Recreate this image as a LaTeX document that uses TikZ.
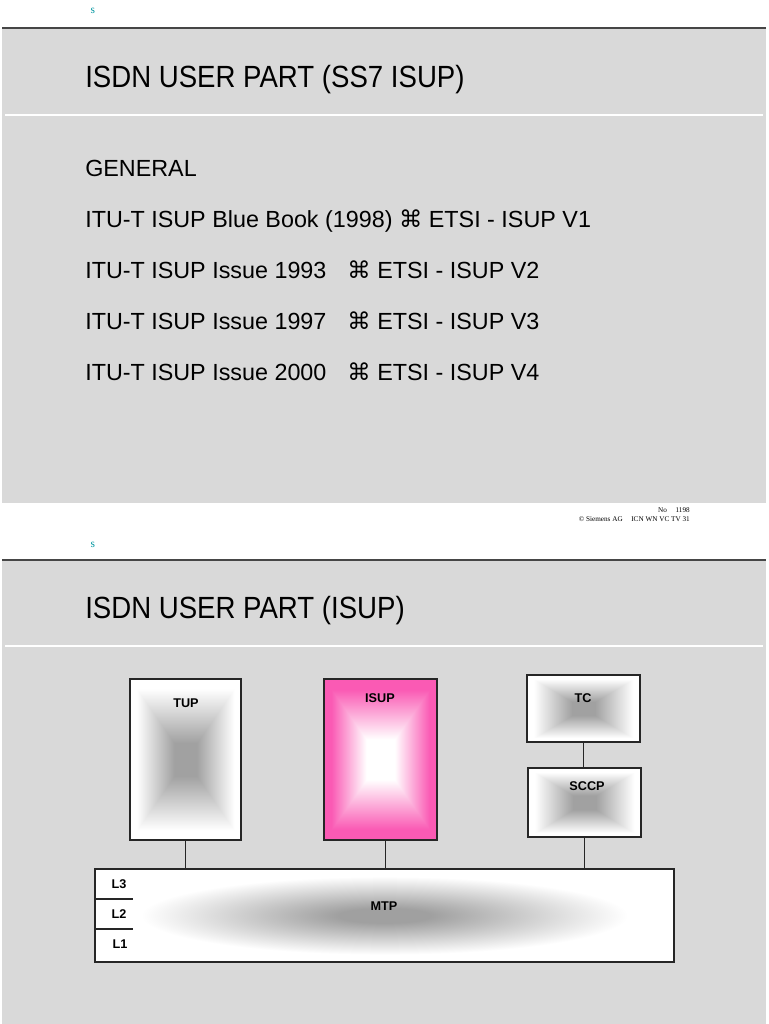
\documentclass[tikz,border=0pt]{standalone}
\usepackage{fontspec}
\usepackage{graphicx}
\setmainfont{Liberation Sans}
\newfontfamily\seriffont{Liberation Serif}
\newfontfamily\symbolfont{DejaVu Sans}
\usetikzlibrary{positioning}
\definecolor{panelgray}{RGB}{217,217,217}
\definecolor{rulegray}{RGB}{70,70,70}
\definecolor{logoteal}{RGB}{0,150,160}
\definecolor{shadegray}{RGB}{160,160,160}
\definecolor{isuppink}{RGB}{250,90,180}
% rectangular fade: gray centre to white rim
\pgfdeclarefunctionalshading{boxgray}{\pgfpoint{-50bp}{-50bp}}{\pgfpoint{50bp}{50bp}}{}{
  abs exch abs 2 copy lt {exch} if pop
  50 div 0.2 sub 0.68 div
  dup 0 lt {pop 0} if dup 1 gt {pop 1} if
  0.37 mul 0.63 add dup dup
}
% rectangular fade: white centre to pink rim
\pgfdeclarefunctionalshading{boxpink}{\pgfpoint{-50bp}{-50bp}}{\pgfpoint{50bp}{50bp}}{}{
  abs exch abs 2 copy lt {exch} if pop
  50 div 0.25 sub 0.62 div
  dup 0 lt {pop 0} if dup 1 gt {pop 1} if
  dup 0.02 mul 1 exch sub exch
  dup 0.647 mul 1 exch sub exch
  0.294 mul 1 exch sub
}
\pgfdeclareradialshading{lensgray}{\pgfpoint{0bp}{0bp}}{color(0bp)=(shadegray); color(8bp)=(shadegray); color(42bp)=(white); color(50bp)=(white)}
\newcommand{\cmdsym}{{\symbolfont ⌘}}

\begin{document}
\begin{tikzpicture}[x=0.75pt, y=-0.75pt,
    panel/.style={fill=panelgray, draw=none},
    rule/.style={draw=rulegray, line width=1.5pt},
    sep/.style={draw=white, line width=1.5pt},
    logo/.style={anchor=base west, text=logoteal, font=\seriffont\fontsize{8.5}{9}\selectfont},
    title/.style={anchor=base west, inner sep=0pt, font=\fontsize{23}{26}\selectfont},
    item/.style={anchor=base west, inner sep=0pt, font=\fontsize{17.5}{20}\selectfont},
    foot/.style={anchor=base east, inner sep=0pt, font=\seriffont\fontsize{5.4}{6}\selectfont},
    layer/.style n args={3}{rectangle, draw=black!85, fill=white, line width=0.8pt, inner sep=0pt,
        minimum width=#2, minimum height=#3,
        path picture={\node[inner sep=0pt] at (path picture bounding box.center)
            {\resizebox{#2}{#3}{\pgfuseshading{#1}}};}},
    lbl/.style={font=\bfseries\fontsize{9.5}{11}\selectfont, inner sep=0pt},
    wire/.style={draw=black!85, line width=0.8pt}
]
\useasboundingbox (0,0) rectangle (768,1024);
\fill[white] (0,0) rectangle (768,1024);

% Slide 1: general
\node[logo] (logoa) at (86,14) {s};
\fill[panel] (2,29) rectangle (766,503);
\draw[rule] (2,28) -- (766,28);
\node[title] (titlea) at (85,88) {\scalebox{0.9}[1]{ISDN USER PART (SS7 ISUP)}};
\draw[sep] (5,115) -- (763,115);

\node[item] (gen) at (85,176) {GENERAL};
\node[item] (v1) at (85,227) {ITU-T ISUP Blue Book (1998) \cmdsym{} ETSI - ISUP V1};
\node[item] (v2) at (85,278) {ITU-T ISUP Issue 1993\hspace{0.9em}\cmdsym{} ETSI - ISUP V2};
\node[item] (v3) at (85,329) {ITU-T ISUP Issue 1997\hspace{0.9em}\cmdsym{} ETSI - ISUP V3};
\node[item] (v4) at (85,380) {ITU-T ISUP Issue 2000\hspace{0.9em}\cmdsym{} ETSI - ISUP V4};

\node[foot] (pageno) at (690,512) {No\hspace{1.2em}1198};
\node[foot] (copy) at (690,521) {\textcopyright{} Siemens AG\hspace{1.2em}ICN WN VC TV 31};

% Slide 2: protocol stack
\node[logo] (logob) at (86,547) {s};
\fill[panel] (2,561) rectangle (766,1024);
\draw[rule] (2,560) -- (766,560);
\node[title] (titleb) at (85,618) {\scalebox{0.9}[1]{ISDN USER PART (ISUP)}};
\draw[sep] (5,646) -- (763,646);

\node[layer={boxgray}{83.25pt}{120.75pt}] (tup) at (185.5,759.5) {};
\node[layer={boxpink}{84.75pt}{120.75pt}] (isup) at (380.5,759.5) {};
\node[layer={boxgray}{84.75pt}{50.25pt}] (tc) at (583.5,708.5) {};
\node[layer={boxgray}{84.75pt}{51.75pt}] (sccp) at (584.5,802.5) {};
\node[layer={lensgray}{434.25pt}{69.75pt}] (mtp) at (384.5,915.5) {};

\node[lbl] (tuptxt) at (186,703) {TUP};
\node[lbl] (isuptxt) at (380,698) {ISUP};
\node[lbl] (tctxt) at (583,698) {TC};
\node[lbl] (sccptxt) at (587,786) {SCCP};
\node[lbl] (mtptxt) at (384,906) {MTP};
\node[lbl] (lthree) at (119,884) {L3};
\node[lbl] (ltwo) at (119,914) {L2};
\node[lbl] (lone) at (120,944) {L1};

\draw[wire] (mtp.west |- 0,899) -- (133,899);
\draw[wire] (mtp.west |- 0,929) -- (133,929);

\draw[wire] (tup.south) -- (tup.south |- mtp.north);
\draw[wire] ([xshift=3.4pt]isup.south) -- ([xshift=3.4pt]isup.south |- mtp.north);
\draw[wire] (tc.south) -- (tc.south |- sccp.north);
\draw[wire] (sccp.south) -- (sccp.south |- mtp.north);

\end{tikzpicture}
\end{document}
